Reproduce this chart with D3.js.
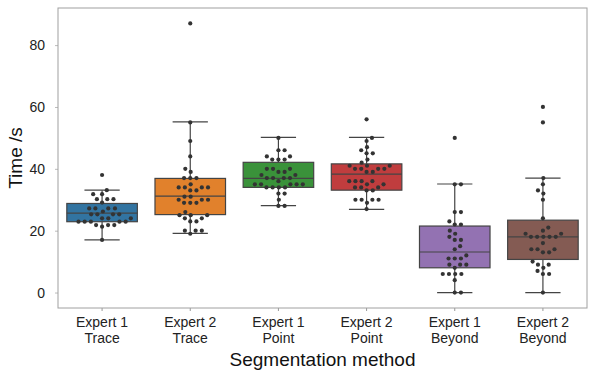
<!DOCTYPE html>
<html>
<head>
<meta charset="utf-8">
<script src="https://cdn.jsdelivr.net/npm/d3@7"></script>
<style>
  body { margin: 0; background: #fff; }
  text { font-family: "Liberation Sans", Arial, sans-serif; }
</style>
</head>
<body>
<div id="chart"></div>
<script>
// categories and labels
let categories = ["e1t", "e2t", "e1p", "e2p", "e1b", "e2b"];
let labelTop = ["Expert 1", "Expert 2", "Expert 1", "Expert 2", "Expert 1", "Expert 2"];
let labelBottom = ["Trace", "Trace", "Point", "Point", "Beyond", "Beyond"];
let yTicks = [0, 20, 40, 60, 80];

// box statistics
let q1 = [22.9, 25.2, 34.0, 33.1, 8.0, 10.7];
let median = [25.7, 31.2, 36.9, 38.3, 13.1, 18.0];
let q3 = [28.8, 36.9, 42.1, 41.6, 21.5, 23.4];
let whiskerLo = [17.0, 19.1, 28.1, 26.9, 0, 0];
let whiskerHi = [33.1, 55.2, 50.2, 50.2, 35.1, 37.0];

// individual times per method
let e1Trace = [38, 33.1, 31.8, 31.8, 30.2, 30.2, 30.2, 29.1, 27.2, 27.2, 27.2, 27.2, 26.2, 25.3, 25.3, 25.3, 25.3, 24, 24, 24, 22.9, 22.9, 22.9, 22.9, 22.9, 21.8, 21.8, 21.8, 21.3, 17];
let e2Trace = [87, 55, 49, 44, 40, 39, 37, 37, 37, 35, 34, 34, 34, 34, 33, 33, 31, 31, 30, 30, 30, 29, 29, 29, 26, 25, 25, 25, 24, 24, 23, 23, 20, 20, 20, 19];
let e1Point = [50, 46, 46, 44, 44, 43, 43, 43, 40, 40, 40, 39, 39, 38, 38, 37, 37, 37, 37, 36, 35, 35, 35, 35, 35, 34, 34, 34, 34, 32, 32, 30, 28, 28];
let e2Point = [56, 50, 49, 47, 46, 45, 45, 43, 42, 41, 41, 41, 40, 40, 40, 40, 39, 39, 36, 36, 36, 36, 35, 35, 34, 34, 34, 33, 33, 30, 30, 30, 30, 29, 27];
let e1Beyond = [50, 35, 35, 26, 26, 23, 22, 22, 20, 19, 18, 17, 17, 15, 14, 12, 11, 11, 11, 9, 9, 9, 8, 6, 6, 6, 6, 4, 0, 0];
let e2Beyond = [60, 55, 37, 35, 33, 32, 30, 24, 21, 20, 19, 19, 18, 18, 18, 18, 18, 16, 14, 14, 14, 13, 13, 10, 9, 9, 8, 7, 6, 6, 0];
let pointSets = [e1Trace, e2Trace, e1Point, e2Point, e1Beyond, e2Beyond];

let colors = ["#3274a1", "#e1812c", "#3a923a", "#c03d3e", "#9372b2", "#845b53"];

let margin = {top: 8, right: 6, bottom: 65, left: 58};
let width = 593 - margin.left - margin.right;
let height = 373 - margin.top - margin.bottom;

let svg = d3.select("#chart").append("svg")
    .attr("width", 593)
    .attr("height", 373);

let g = svg.append("g")
    .attr("transform", "translate(" + margin.left + "," + margin.top + ")");

let x = d3.scaleBand()
    .domain(categories)
    .range([0, width]);

let y = d3.scaleLinear()
    .domain([-5, 92])
    .range([height, 0]);

let boxW = x.bandwidth() * 0.8;
let lineColor = "#444";

// axes
let yAxis = g.append("g")
    .call(d3.axisLeft(y).tickValues(yTicks).tickSize(3).tickPadding(10));
yAxis.select(".domain").remove();
yAxis.selectAll("line").attr("stroke", "#bbb");
yAxis.selectAll("text")
    .attr("font-size", 14)
    .attr("fill", "#222")
    .style("font-family", "Liberation Sans, Arial, sans-serif");

let xAxis = g.append("g")
    .attr("transform", "translate(0," + height + ")")
    .call(d3.axisBottom(x).tickSize(3).tickFormat(""));
xAxis.select(".domain").remove();
xAxis.selectAll("line").attr("stroke", "#999");

// category labels, two lines
categories.forEach((c, i) => {
    let t = g.append("text")
        .attr("x", x(c) + x.bandwidth() / 2)
        .attr("y", height + 19)
        .attr("text-anchor", "middle")
        .attr("font-size", 14)
        .attr("fill", "#222");
    t.append("tspan").attr("x", x(c) + x.bandwidth() / 2).attr("dy", 0).text(labelTop[i]);
    t.append("tspan").attr("x", x(c) + x.bandwidth() / 2).attr("dy", 16).text(labelBottom[i]);
});

// boxes
categories.forEach((c, i) => {
    let cx = x(c) + x.bandwidth() / 2;
    let bg = g.append("g");

    bg.append("line")
        .attr("x1", cx).attr("x2", cx)
        .attr("y1", y(q3[i])).attr("y2", y(whiskerHi[i]))
        .attr("stroke", lineColor).attr("stroke-width", 1.2);
    bg.append("line")
        .attr("x1", cx).attr("x2", cx)
        .attr("y1", y(q1[i])).attr("y2", y(whiskerLo[i]))
        .attr("stroke", lineColor).attr("stroke-width", 1.2);

    [whiskerHi[i], whiskerLo[i]].forEach(v => {
        bg.append("line")
            .attr("x1", cx - boxW / 4).attr("x2", cx + boxW / 4)
            .attr("y1", y(v)).attr("y2", y(v))
            .attr("stroke", lineColor).attr("stroke-width", 1.2);
    });

    bg.append("rect")
        .attr("x", cx - boxW / 2)
        .attr("width", boxW)
        .attr("y", y(q3[i]))
        .attr("height", y(q1[i]) - y(q3[i]))
        .attr("fill", colors[i])
        .attr("stroke", lineColor)
        .attr("stroke-width", 1.2);

    bg.append("line")
        .attr("x1", cx - boxW / 2).attr("x2", cx + boxW / 2)
        .attr("y1", y(median[i])).attr("y2", y(median[i]))
        .attr("stroke", lineColor).attr("stroke-width", 1.2);
});

// swarm placement, same idea as seaborn: nearest free offset to the centre
function swarm(values, d) {
    let sorted = values.slice().sort((a, b) => a - b);
    let placed = [];
    sorted.forEach(v => {
        let py = y(v);
        let cands = [0];
        placed.forEach(p => {
            let dy = Math.abs(p.y - py);
            if (dy < d) {
                let dx = Math.sqrt(d * d - dy * dy);
                cands.push(p.x + dx, p.x - dx);
            }
        });
        cands.sort((a, b) => Math.abs(a) - Math.abs(b));
        let best = 0;
        for (let k = 0; k < cands.length; k++) {
            let ok = true;
            for (let p of placed) {
                let dd = Math.hypot(p.x - cands[k], p.y - py);
                if (dd < d - 0.01) { ok = false; break; }
            }
            if (ok) { best = cands[k]; break; }
        }
        placed.push({x: best, y: py});
    });
    return placed;
}

categories.forEach((c, i) => {
    let cx = x(c) + x.bandwidth() / 2;
    let pts = swarm(pointSets[i], 6.2);
    g.selectAll(".pt" + i)
        .data(pts)
        .enter().append("circle")
        .attr("class", "pt" + i)
        .attr("cx", d => cx + d.x)
        .attr("cy", d => d.y)
        .attr("r", 2.1)
        .attr("fill", "#333");
});

// frame
g.append("rect")
    .attr("x", 0).attr("y", 0)
    .attr("width", width).attr("height", height)
    .attr("fill", "none")
    .attr("stroke", "#a0a0a0")
    .attr("stroke-width", 1);

// axis titles
svg.append("text")
    .attr("transform", "translate(22," + (margin.top + height / 2) + ") rotate(-90)")
    .attr("text-anchor", "middle")
    .attr("font-size", 19)
    .attr("fill", "#111")
    .text("Time /s");

svg.append("text")
    .attr("x", margin.left + width / 2)
    .attr("y", 366)
    .attr("text-anchor", "middle")
    .attr("font-size", 19)
    .attr("fill", "#111")
    .text("Segmentation method");
</script>
</body>
</html>
